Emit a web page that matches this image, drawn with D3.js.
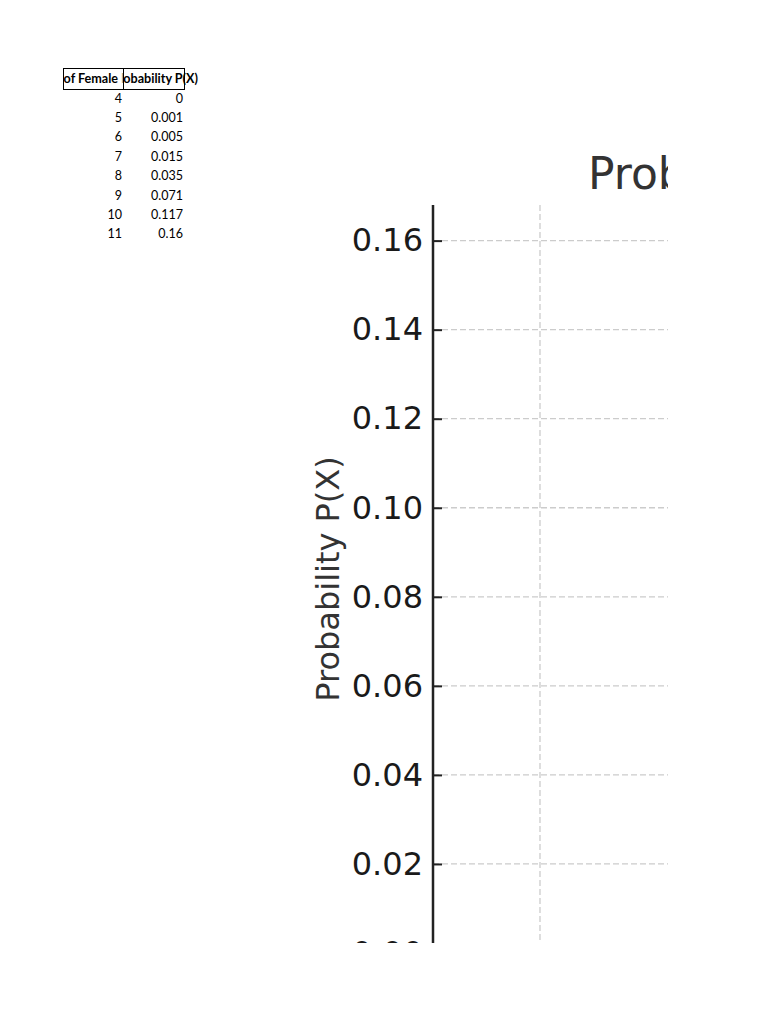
<!DOCTYPE html>
<html>
<head>
<meta charset="utf-8">
<script src="https://cdnjs.cloudflare.com/ajax/libs/d3/7.8.5/d3.min.js"></script>
<style>
body{margin:0;background:#fff;}
</style>
</head>
<body>
<svg id="sheet" width="768" height="1024"></svg>
<script>
// sheet data
var HEADERS=["Number of Female Births (X)","Probability P(X)"];
var BIRTHS=[4,5,6,7,8,9,10,11];
var PROBS=[0,0.001,0.005,0.015,0.035,0.071,0.117,0.16];
var PROBLABELS=["0","0.001","0.005","0.015","0.035","0.071","0.117","0.16"];
var YTICKS=[0,0.02,0.04,0.06,0.08,0.10,0.12,0.14,0.16];
var XTICKS=[4,5,6,7,8,9,10,11];
var TITLE="Probability Distribution of Number of Female Births";
var YLABEL="Probability P(X)";

var svg=d3.select("#sheet");

// cell grid
var COLS=[63,123,184];
var HEADTOP=68;
var HEADHEIGHT=21;
var ROWFIRST=98;
var ROWSTEP=19.4;

// picture box (clipped by the sheet window)
var PLOTLEFT=433;
var PLOTRIGHT=1595;
var PLOTTOP=205;
var PLOTBOTTOM=953;

drawTable();
drawChart();

//表格
function drawTable(){
	var defs=svg.append("defs");
	for(var i=0;i<HEADERS.length;i++){
		defs.append("clipPath").attr("id","cell"+i)
			.append("rect")
			.attr("x",COLS[i]+0.5)
			.attr("y",HEADTOP)
			.attr("width",(i==HEADERS.length-1?200:COLS[i+1]-COLS[i])-1)
			.attr("height",HEADHEIGHT);
		svg.append("text")
			.attr("clip-path","url(#cell"+i+")")
			.attr("x",(COLS[i]+COLS[i+1])/2+1)
			.attr("y",HEADTOP+15)
			.attr("text-anchor","middle")
			.style("font-family","Lato")
			.style("font-weight","bold")
			.style("font-size","12.6px")
			.style("fill","#000")
			.text(HEADERS[i]);
		svg.append("rect")
			.attr("x",COLS[i]+0.5)
			.attr("y",HEADTOP+0.5)
			.attr("width",COLS[i+1]-COLS[i])
			.attr("height",HEADHEIGHT)
			.style("fill","none")
			.style("stroke","#000")
			.style("stroke-width",1);
	}
	var row=d3.scaleLinear().domain([0,1]).range([ROWFIRST,ROWFIRST+ROWSTEP]);
	var body=svg.append("g")
		.style("font-family","Lato")
		.style("font-size","12.5px")
		.style("fill","#000");
	for(var i=0;i<BIRTHS.length;i++){
		body.append("text")
			.attr("x",COLS[1]-1)
			.attr("y",row(i)+4.5)
			.attr("text-anchor","end")
			.text(BIRTHS[i]);
		body.append("text")
			.attr("x",COLS[2]-1)
			.attr("y",row(i)+4.5)
			.attr("text-anchor","end")
			.text(PROBLABELS[i]);
	}
}

//图表
function drawChart(){
	svg.select("defs").append("clipPath").attr("id","window")
		.append("rect")
		.attr("x",200).attr("y",130)
		.attr("width",668-200).attr("height",943-130);
	var g=svg.append("g").attr("clip-path","url(#window)");

	var span=d3.max(BIRTHS)-d3.min(BIRTHS)+0.8;
	var x=d3.scaleLinear()
		.domain([d3.min(BIRTHS)-0.4-0.05*span,d3.max(BIRTHS)+0.4+0.05*span])
		.range([PLOTLEFT,PLOTRIGHT]);
	var y=d3.scaleLinear()
		.domain([0,d3.max(PROBS)*1.05])
		.range([PLOTBOTTOM,PLOTTOP]);

	// grid
	g.selectAll(".hGrid").data(YTICKS).enter().append("line")
		.attr("class","hGrid")
		.attr("x1",PLOTLEFT).attr("x2",PLOTRIGHT)
		.attr("y1",function(d){return y(d);})
		.attr("y2",function(d){return y(d);})
		.style("stroke","#cccccc")
		.style("stroke-width",1.3)
		.style("stroke-dasharray","6,3");
	g.selectAll(".vGrid").data(XTICKS).enter().append("line")
		.attr("class","vGrid")
		.attr("x1",function(d){return x(d);})
		.attr("x2",function(d){return x(d);})
		.attr("y1",PLOTTOP).attr("y2",PLOTBOTTOM)
		.style("stroke","#cccccc")
		.style("stroke-width",1.3)
		.style("stroke-dasharray","6,3");

	// bars
	g.selectAll(".bar").data(PROBS).enter().append("rect")
		.attr("class","bar")
		.attr("x",function(d,i){return x(BIRTHS[i]-0.4);})
		.attr("width",x(0.8)-x(0))
		.attr("y",function(d){return y(d);})
		.attr("height",function(d){return y(0)-y(d);})
		.style("fill","skyblue")
		.style("stroke","#000")
		.style("stroke-width",1);

	// y axis
	var yAxis=d3.axisLeft(y)
		.tickValues(YTICKS)
		.tickFormat(d3.format(".2f"))
		.tickSizeInner(-9)
		.tickSizeOuter(0);
	var ax=g.append("g")
		.attr("transform","translate("+PLOTLEFT+",0)")
		.call(yAxis);
	ax.select(".domain").style("stroke","#222").style("stroke-width",2.5)
		.attr("d","M0,"+PLOTTOP+"V"+PLOTBOTTOM);
	ax.selectAll(".tick line").style("stroke","#222").style("stroke-width",2);
	ax.selectAll(".tick text")
		.attr("x",-10)
		.style("font-family","DejaVu Sans")
		.style("font-size","32px")
		.style("fill","#1a1a1a");

	// x axis line
	g.append("line")
		.attr("x1",PLOTLEFT).attr("x2",PLOTRIGHT)
		.attr("y1",PLOTBOTTOM).attr("y2",PLOTBOTTOM)
		.style("stroke","#222")
		.style("stroke-width",2.5);

	g.append("text")
		.attr("transform","translate(339,"+(PLOTTOP+PLOTBOTTOM)/2+") rotate(-90)")
		.attr("text-anchor","middle")
		.style("font-family","DejaVu Sans")
		.style("font-size","32px")
		.style("fill","#333")
		.text(YLABEL);

	g.append("text")
		.attr("x",588)
		.attr("y",189)
		.style("font-family","DejaVu Sans")
		.style("font-size","44px")
		.style("fill","#333")
		.text(TITLE);
}
</script>
</body>
</html>
